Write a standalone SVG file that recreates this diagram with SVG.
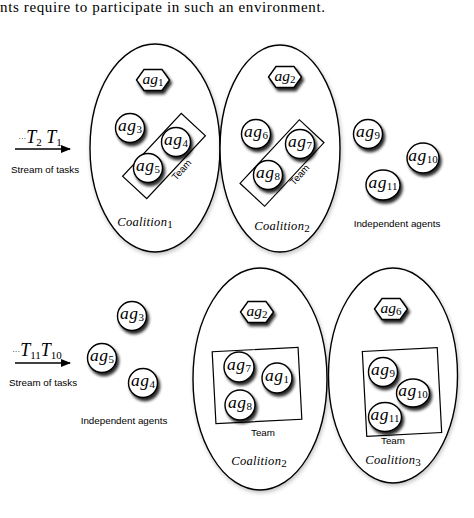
<svg xmlns="http://www.w3.org/2000/svg" width="474" height="518" viewBox="0 0 474 518">
<defs>
<filter id="sh" x="-50%" y="-50%" width="200%" height="200%">
<feGaussianBlur in="SourceAlpha" stdDeviation="1.8"/>
<feOffset dx="2" dy="3" result="b"/>
<feComponentTransfer><feFuncA type="linear" slope="0.85"/></feComponentTransfer>
<feMerge><feMergeNode/><feMergeNode in="SourceGraphic"/></feMerge>
</filter>
<filter id="esh" x="-20%" y="-20%" width="140%" height="140%">
<feGaussianBlur in="SourceAlpha" stdDeviation="2"/>
<feOffset dx="1" dy="2"/>
<feComponentTransfer><feFuncA type="linear" slope="0.25"/></feComponentTransfer>
<feMerge><feMergeNode/><feMergeNode in="SourceGraphic"/></feMerge>
</filter>
<marker id="arr" markerWidth="10" markerHeight="8" refX="9" refY="4" orient="auto" markerUnits="userSpaceOnUse">
<path d="M0,0 L10,4 L0,8 Z" fill="#000"/>
</marker>
<polygon id="hex" points="-16.5,0 -9,-10.5 9,-10.5 16.5,0 9,10.5 -9,10.5"/>
</defs>
<style>
.coal{fill:#fff;stroke:#000;stroke-width:1.4;filter:url(#esh)}
.ag{fill:#fff;stroke:#000;stroke-width:1.4;filter:url(#sh)}
.team{fill:none;stroke:#000;stroke-width:1.2}
.m{font-family:"Liberation Serif",serif;font-size:17.5px;font-style:italic;fill:#000;text-anchor:middle;letter-spacing:0.4px}
.mh{font-size:15.5px;letter-spacing:0}
.sub{font-style:normal;font-size:11px;letter-spacing:0}
.tk{font-family:"Liberation Serif",serif;font-size:18px;font-style:italic;fill:#000;text-anchor:middle}
.cl{font-family:"Liberation Serif",serif;font-size:12.5px;font-style:italic;fill:#000;text-anchor:middle;letter-spacing:0.3px}
.lab{font-family:"Liberation Sans",Arial,sans-serif;font-size:9.8px;fill:#000;text-anchor:middle}
.cap{font-family:"Liberation Serif",serif;font-size:15px;fill:#000}
.arrow{stroke:#000;stroke-width:1.3;fill:none}
</style>

<text class="cap" x="0" y="12" textLength="325">nts require to participate in such an environment.</text>

<!-- Top scenario -->
<g id="stream-top">
<text class="tk" x="40" y="143"><tspan font-style="normal" font-size="8" dy="-2">···</tspan><tspan dy="2">T</tspan><tspan class="sub" dy="3">2</tspan><tspan dy="-3"> T</tspan><tspan class="sub" dy="3">1</tspan></text>
<text class="lab" x="45" y="173">Stream of tasks</text>
</g>

<g id="coalition1-top">
<ellipse class="coal" cx="155" cy="148" rx="65" ry="104"/>
<text class="cl" x="145" y="226">Coalition<tspan class="sub" font-size="8.5" dy="2">1</tspan></text>
</g>
<g id="coalition2-top">
<ellipse class="coal" cx="280" cy="148.5" rx="60" ry="103.5"/>
<text class="cl" x="282" y="230">Coalition<tspan class="sub" font-size="8.5" dy="2">2</tspan></text>
</g>

<g id="team1-top">
<rect class="team" x="-43" y="-16.5" width="86" height="33" transform="translate(164,156) rotate(-47)"/>
<text class="lab" transform="translate(184,172) rotate(-48)">Team</text>
</g>
<g id="team2-top">
<rect class="team" x="-43.5" y="-16.8" width="87" height="33.6" transform="translate(282,163) rotate(-47)"/>
<text class="lab" transform="translate(302,177) rotate(-48)">Team</text>
</g>

<g id="t-ag1"><use href="#hex" class="ag" x="153" y="80"/><text class="m mh" x="153" y="84">ag<tspan class="sub" font-size="10" dy="2">1</tspan></text></g>
<g id="t-ag3"><circle class="ag" cx="130" cy="128" r="14.5"/><text class="m" x="130" y="131">ag<tspan class="sub" dy="2">3</tspan></text></g>
<g id="t-ag4"><circle class="ag" cx="176" cy="142" r="14.5"/><text class="m" x="176" y="145">ag<tspan class="sub" dy="2">4</tspan></text></g>
<g id="t-ag5"><circle class="ag" cx="148" cy="168" r="14.5"/><text class="m" x="148" y="171">ag<tspan class="sub" dy="2">5</tspan></text></g>

<g id="t-ag2"><use href="#hex" class="ag" x="285" y="77"/><text class="m mh" x="285" y="81">ag<tspan class="sub" font-size="10" dy="2">2</tspan></text></g>
<g id="t-ag6"><circle class="ag" cx="256" cy="134" r="14.5"/><text class="m" x="256" y="137">ag<tspan class="sub" dy="2">6</tspan></text></g>
<g id="t-ag7"><circle class="ag" cx="300" cy="144" r="14.5"/><text class="m" x="300" y="147">ag<tspan class="sub" dy="2">7</tspan></text></g>
<g id="t-ag8"><circle class="ag" cx="268" cy="175" r="14.5"/><text class="m" x="268" y="178">ag<tspan class="sub" dy="2">8</tspan></text></g>

<g id="t-ag9"><circle class="ag" cx="368" cy="134" r="14.5"/><text class="m" x="368" y="137">ag<tspan class="sub" dy="2">9</tspan></text></g>
<g id="t-ag10"><ellipse class="ag" cx="423" cy="158" rx="16" ry="15"/><text class="m" x="423" y="161">ag<tspan class="sub" dy="2">10</tspan></text></g>
<g id="t-ag11"><ellipse class="ag" cx="383" cy="185" rx="17" ry="15"/><text class="m" x="383" y="188">ag<tspan class="sub" dy="2">11</tspan></text></g>
<g id="t-indep"><text class="lab" x="397" y="227">Independent agents</text></g>

<!-- Bottom scenario -->
<g id="stream-bottom">
<text class="tk" x="37" y="356"><tspan font-style="normal" font-size="8" dy="-2">···</tspan><tspan dy="2">T</tspan><tspan class="sub" dy="3">11</tspan><tspan dy="-3">T</tspan><tspan class="sub" dy="3">10</tspan></text>
<text class="lab" x="43" y="386">Stream of tasks</text>
</g>

<g id="b-ag3"><circle class="ag" cx="132" cy="316" r="14.5"/><text class="m" x="132" y="319">ag<tspan class="sub" dy="2">3</tspan></text></g>
<g id="b-ag5"><circle class="ag" cx="102" cy="358" r="14.5"/><text class="m" x="102" y="361">ag<tspan class="sub" dy="2">5</tspan></text></g>
<g id="b-ag4"><circle class="ag" cx="143" cy="383" r="14.5"/><text class="m" x="143" y="386">ag<tspan class="sub" dy="2">4</tspan></text></g>
<g id="b-indep"><text class="lab" x="124" y="424">Independent agents</text></g>

<g id="coalition2-bottom">
<ellipse class="coal" cx="260" cy="379" rx="67" ry="111"/>
<text class="cl" x="259" y="465">Coalition<tspan class="sub" font-size="8.5" dy="2">2</tspan></text>
</g>
<g id="coalition3-bottom">
<ellipse class="coal" cx="393" cy="375.5" rx="64.5" ry="107.5"/>
<text class="cl" x="393" y="464">Coalition<tspan class="sub" font-size="8.5" dy="2">3</tspan></text>
</g>

<g id="team-b2">
<rect class="team" x="-43" y="-36" width="86" height="72" transform="translate(257,385.5) rotate(-3)"/>
<text class="lab" x="263" y="436">Team</text>
</g>
<g id="team-b3">
<rect class="team" x="-37.5" y="-42.5" width="75" height="85" transform="translate(402,392) rotate(-3)"/>
<text class="lab" x="393" y="444">Team</text>
</g>

<g id="b-ag2"><use href="#hex" class="ag" x="257" y="312"/><text class="m mh" x="257" y="316">ag<tspan class="sub" font-size="10" dy="2">2</tspan></text></g>
<g id="b-ag7"><circle class="ag" cx="239" cy="367" r="15"/><text class="m" x="239" y="370">ag<tspan class="sub" dy="2">7</tspan></text></g>
<g id="b-ag1"><circle class="ag" cx="277" cy="378" r="15"/><text class="m" x="277" y="381">ag<tspan class="sub" dy="2">1</tspan></text></g>
<g id="b-ag8"><circle class="ag" cx="240" cy="405" r="15"/><text class="m" x="240" y="408">ag<tspan class="sub" dy="2">8</tspan></text></g>

<g id="b-ag6"><use href="#hex" class="ag" x="391" y="309"/><text class="m mh" x="391" y="313">ag<tspan class="sub" font-size="10" dy="2">6</tspan></text></g>
<g id="b-ag9"><circle class="ag" cx="383" cy="372" r="14.5"/><text class="m" x="383" y="375">ag<tspan class="sub" dy="2">9</tspan></text></g>
<g id="b-ag10"><ellipse class="ag" cx="413" cy="393" rx="16.5" ry="14"/><text class="m" x="413" y="396">ag<tspan class="sub" dy="2">10</tspan></text></g>
<g id="b-ag11"><ellipse class="ag" cx="385" cy="417" rx="16.5" ry="14.5"/><text class="m" x="385" y="420">ag<tspan class="sub" dy="2">11</tspan></text></g>

<g id="connectors">
<line class="arrow" x1="15" y1="149" x2="70" y2="149" marker-end="url(#arr)"/>
<line class="arrow" x1="15" y1="363" x2="70" y2="363" marker-end="url(#arr)"/>
</g>
</svg>
